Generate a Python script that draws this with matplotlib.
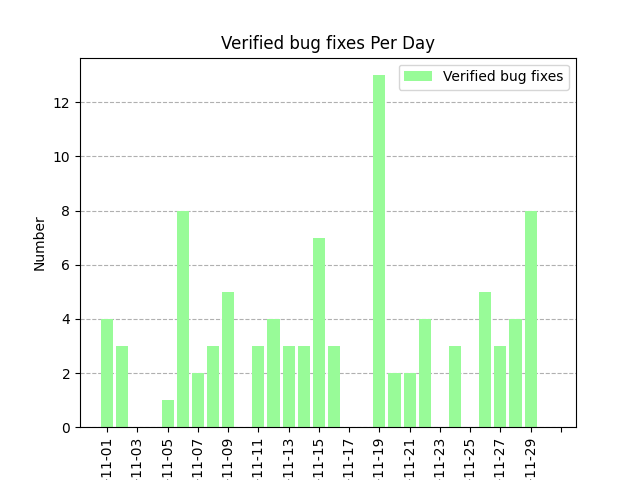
import matplotlib
matplotlib.use("Agg")
import matplotlib.pyplot as plt

days = [f"2018-11-{d:02d}" for d in range(1, 31)]
values = [4,3,0,0,1,8,2,3,5,0,3,4,3,3,7,3,0,0,13,2,2,4,0,3,0,5,3,4,8,0]

fig, ax = plt.subplots(figsize=(6.4, 4.8), dpi=100)
x = list(range(len(days)))
ax.bar(x, values, color="#98fb98", label="Verified bug fixes", zorder=2)
ticks = list(range(0, 31, 2))
labels = [days[i] if i < len(days) else "" for i in ticks]
ax.set_xticks(ticks)
ax.set_xticklabels(labels, rotation=90)
ax.set_xlim(-1.79, 31.0)
ax.set_ylim(0, 13.65)
ax.yaxis.grid(True, linestyle="--", color="#b0b0b0", zorder=0)
ax.set_ylabel("Number")
ax.set_title("Verified bug fixes Per Day")
ax.legend(loc="upper right")
fig.savefig("out.png")
